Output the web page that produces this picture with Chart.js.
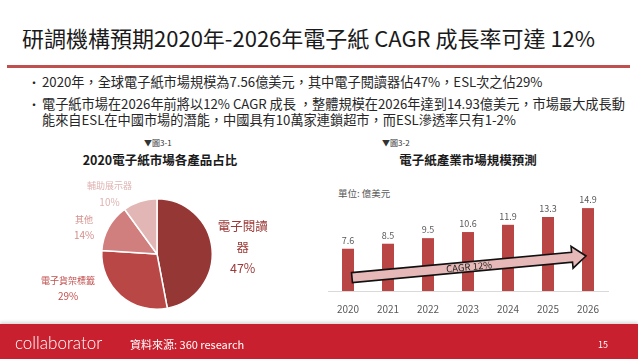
<!DOCTYPE html>
<html>
<head>
<meta charset="utf-8">
<script src="https://cdn.jsdelivr.net/npm/chart.js@4.4.1/dist/chart.umd.min.js"></script>
<style>
  body { margin: 0; background: #fff; }
  #slide { position: relative; width: 638px; height: 359px; overflow: hidden; background: #fff;
    font-family: "Noto Sans CJK TC", "Noto Sans", sans-serif; color: #262626; }
  .abs { position: absolute; white-space: nowrap; }
  #title { left: 22px; top: 21px; font-size: 22px; color: #1a1a1a; }
  #rule { left: 7px; top: 65px; width: 623px; height: 3px; background: #c0504d; }
  .bullet { font-size: 13.2px; line-height: 16px; color: #262626; }
  .dot { font-size: 12px; }
  .fig { font-size: 8px; color: #333; }
  .ctitle { font-size: 12.5px; font-weight: bold; color: #1a1a1a; transform: translateX(-50%); }
  #unit { left: 338px; top: 186px; font-size: 9.5px; color: #595959; }
  #footer { left: 0; top: 324px; width: 638px; height: 35px; background: #c8202e;
    box-shadow: 0 -2px 3px rgba(0,0,0,0.15); }
  #logo { left: 15px; top: 332px; font-family: Lato, sans-serif; font-weight: 300; font-size: 17px; color: #fff; }
  #src { left: 130px; top: 336px; font-size: 11px; color: #fff; }
  #page { left: 598px; top: 338px; font-size: 9px; color: #fff; }
  canvas { position: absolute; }
</style>
</head>
<body>
<div id="slide">
  <div class="abs" id="title">研調機構預期2020年-2026年電子紙 CAGR 成長率可達 12%</div>
  <div class="abs" id="rule"></div>

  <div class="abs dot" style="left:28px; top:74px;">•</div>
  <div class="abs bullet" style="left:42px; top:74px;">2020年，全球電子紙市場規模為7.56億美元，其中電子閱讀器佔47%，ESL次之佔29%</div>
  <div class="abs dot" style="left:28px; top:96px;">•</div>
  <div class="abs bullet" style="left:42px; top:96px;">電子紙市場在2026年前將以12% CAGR 成長 ，整體規模在2026年達到14.93億美元，市場最大成長動<br>能來自ESL在中國市場的潛能，中國具有10萬家連鎖超市，而ESL滲透率只有1-2%</div>

  <div class="abs fig" style="left:144px; top:137px;">▼圖3-1</div>
  <div class="abs fig" style="left:382px; top:137px;">▼圖3-2</div>
  <div class="abs ctitle" style="left:160px; top:150px;">2020電子紙市場各產品占比</div>
  <div class="abs ctitle" style="left:468px; top:150px;">電子紙產業市場規模預測</div>
  <div class="abs" id="unit">單位: 億美元</div>

  <canvas id="pieChart" width="280" height="150" style="left:20px; top:170px; width:280px; height:150px;"></canvas>
  <canvas id="barChart" width="300" height="145" style="left:320px; top:180px; width:300px; height:145px;"></canvas>

  <div class="abs" id="footer"></div>
  <div class="abs" id="logo">collaborator</div>
  <div class="abs" id="src">資料來源: 360 research</div>
  <div class="abs" id="page">15</div>
</div>

<script>
// pie: 2020 product share
var productNames = ["電子閱讀器", "電子貨架標籤", "其他", "輔助展示器"];
var productShare = [47, 29, 14, 10];
var sliceColors = ["#953735", "#b94746", "#d07f7e", "#e2b6b5"];
var labelColors = ["#9b3a38", "#c0504d", "#d38e8c", "#e0b3b2"];

// bars: market size forecast (億美元)
var years = ["2020", "2021", "2022", "2023", "2024", "2025", "2026"];
var marketSize = [7.6, 8.5, 9.5, 10.6, 11.9, 13.3, 14.9];
var cagrText = "CAGR 12%";

Chart.defaults.font.family = '"Noto Sans CJK TC", "Noto Sans", sans-serif';
Chart.defaults.animation = false;

// labels around the pie, offset in radius units
var pieLabelPlugin = {
    id: "pieLabels",
    afterDatasetsDraw: function (chart) {
        var ctx = chart.ctx;
        var offsets = [[1.55, -0.13], [-1.61, 0.62], [-1.32, -0.48], [-0.86, -1.09]];
        var meta = chart.getDatasetMeta(0);
        ctx.save();
        ctx.textAlign = "center";
        ctx.textBaseline = "middle";
        meta.data.forEach(function (arc, i) {
            var p = arc.getProps(["x", "y", "outerRadius"], true);
            var cx = p.x + offsets[i][0] * p.outerRadius;
            var cy = p.y + offsets[i][1] * p.outerRadius;
            var big = i === 0;
            var name = productNames[i];
            var lines = big ? [name.slice(0, 4), name.slice(4)] : [name];
            lines.push(productShare[i] + "%");
            var gap = big ? 21 : 16;
            var y0 = cy - (lines.length - 1) * gap / 2;
            ctx.fillStyle = labelColors[i];
            lines.forEach(function (t, k) {
                var isPct = k === lines.length - 1;
                ctx.font = (big ? "12.5px" : (isPct ? "10px" : "9px")) + ' "Noto Sans CJK TC", sans-serif';
                ctx.fillText(t, cx, y0 + k * gap);
            });
        });
        ctx.restore();
    }
};

new Chart(document.getElementById("pieChart").getContext("2d"), {
    type: "pie",
    data: {
        labels: productNames,
        datasets: [{
            data: productShare,
            backgroundColor: sliceColors,
            borderColor: "#ffffff",
            borderWidth: 1.5,
        }],
    },
    options: {
        responsive: false,
        layout: { padding: { left: 81, right: 87, top: 28, bottom: 10 } },
        plugins: { legend: { display: false }, tooltip: { enabled: false } },
    },
    plugins: [pieLabelPlugin],
});

// value labels + CAGR arrow
var barExtrasPlugin = {
    id: "barExtras",
    afterDatasetsDraw: function (chart) {
        var ctx = chart.ctx;
        var xs = chart.scales.x, ys = chart.scales.y;
        ctx.save();

        // arrow, in data space: from just after first bar to last bar
        var x1 = xs.getPixelForValue(0.1), y1 = ys.getPixelForValue(2.4);
        var x2 = xs.getPixelForValue(5.95), y2 = ys.getPixelForValue(6.3);
        var ang = Math.atan2(y2 - y1, x2 - x1);
        var len = Math.hypot(x2 - x1, y2 - y1);
        var sh = 5, hw = 11, hl = 14;
        ctx.translate(x1, y1);
        ctx.rotate(ang);
        ctx.beginPath();
        ctx.moveTo(0, -sh);
        ctx.lineTo(len - hl, -sh);
        ctx.lineTo(len - hl, -hw);
        ctx.lineTo(len, 0);
        ctx.lineTo(len - hl, hw);
        ctx.lineTo(len - hl, sh);
        ctx.lineTo(0, sh);
        ctx.closePath();
        ctx.fillStyle = "#e6b9b8";
        ctx.fill();
        ctx.strokeStyle = "#111";
        ctx.lineWidth = 1.6;
        ctx.stroke();
        ctx.fillStyle = "#222";
        ctx.font = '9.5px "Noto Sans CJK TC", sans-serif';
        ctx.textAlign = "center";
        ctx.textBaseline = "middle";
        ctx.fillText(cagrText, len / 2, 0);
        ctx.setTransform(1, 0, 0, 1, 0, 0);

        var meta = chart.getDatasetMeta(0);
        ctx.fillStyle = "#595959";
        ctx.font = '9px "Noto Sans CJK TC", sans-serif';
        ctx.textAlign = "center";
        ctx.textBaseline = "bottom";
        meta.data.forEach(function (bar, i) {
            ctx.fillText(marketSize[i].toFixed(1), bar.x, bar.y - 4);
        });
        ctx.restore();
    }
};

new Chart(document.getElementById("barChart").getContext("2d"), {
    type: "bar",
    data: {
        labels: years,
        datasets: [{
            data: marketSize,
            backgroundColor: "#b94545",
            categoryPercentage: 1,
            barPercentage: 0.3,
        }],
    },
    options: {
        responsive: false,
        layout: { padding: { left: 8, right: 12, top: 22, bottom: 6 } },
        scales: {
            x: {
                grid: { display: false },
                border: { display: true, color: "#d9d9d9", width: 1 },
                ticks: { color: "#595959", font: { size: 10 }, padding: 4 },
            },
            y: {
                display: false,
                min: 0,
                max: 16,
            },
        },
        plugins: { legend: { display: false }, tooltip: { enabled: false } },
    },
    plugins: [barExtrasPlugin],
});
</script>
</body>
</html>
